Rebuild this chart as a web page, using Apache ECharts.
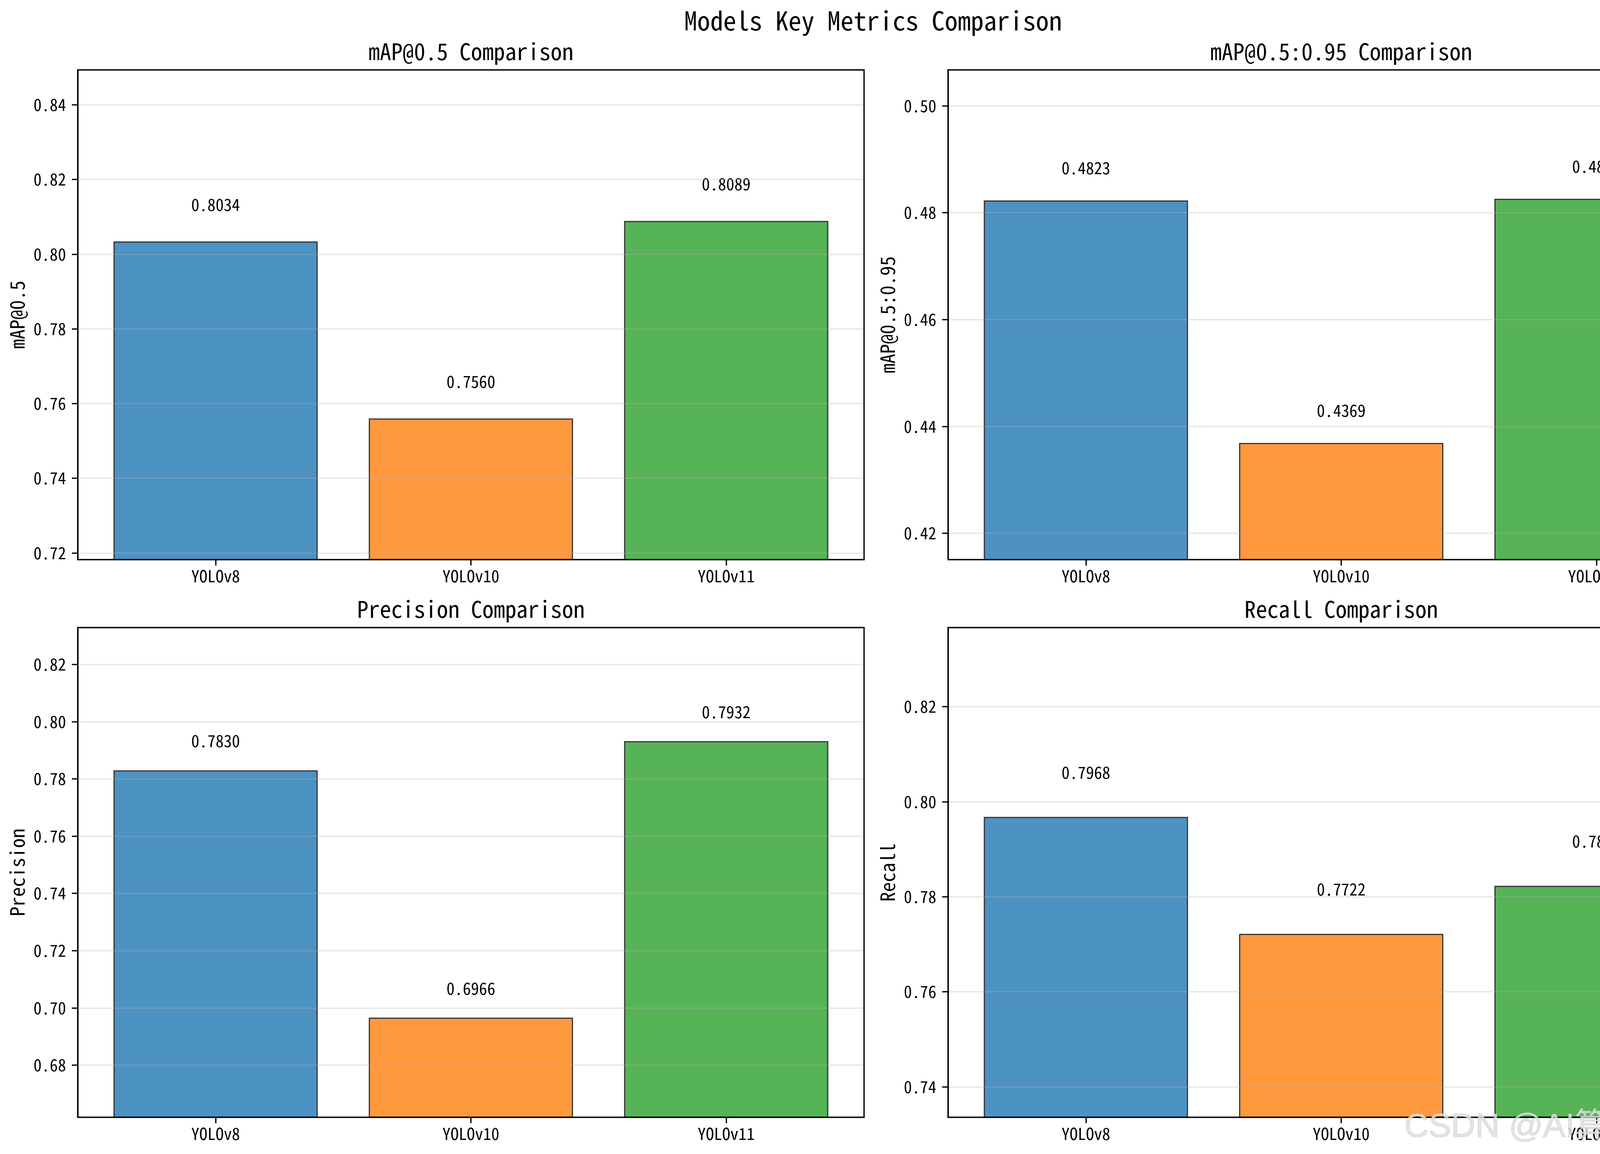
<!DOCTYPE html>
<html>
<head>
<meta charset="utf-8">
<script src="https://cdn.jsdelivr.net/npm/echarts@6/dist/echarts.min.js"></script>
<style>
html,body{margin:0;padding:0;background:#fff;}
#chart{width:4470px;height:2955px;}
</style>
</head>
<body>
<div id="chart"></div>
<script>
// ---- data ----
const categories = ['YOLOv8', 'YOLOv10', 'YOLOv11'];
const map50Values = [0.8034, 0.7560, 0.8089];
const map5095Values = [0.4823, 0.4369, 0.4826];
const precisionValues = [0.7830, 0.6966, 0.7932];
const recallValues = [0.7968, 0.7722, 0.7823];

const map50Ticks = [0.72, 0.74, 0.76, 0.78, 0.80, 0.82, 0.84];
const map5095Ticks = [0.42, 0.44, 0.46, 0.48, 0.50];
const precisionTicks = [0.68, 0.70, 0.72, 0.74, 0.76, 0.78, 0.80, 0.82];
const recallTicks = [0.74, 0.76, 0.78, 0.80, 0.82];

const mainTitle = 'Models Key Metrics Comparison';
const panelTitles = ['mAP@0.5 Comparison', 'mAP@0.5:0.95 Comparison', 'Precision Comparison', 'Recall Comparison'];
const yNames = ['mAP@0.5', 'mAP@0.5:0.95', 'Precision', 'Recall'];
const watermark = 'CSDN @AI算法小哆啦';

// ---- styles / layout ----
const barColors = ['#4c92c3', '#ff993e', '#56b356'];
const FONT = '"Noto Sans Mono CJK SC", "DejaVu Sans Mono", monospace';
const rects = [
  {x: 199, y: 179, w: 2013, h: 1254},
  {x: 2427, y: 179, w: 2013, h: 1254},
  {x: 199, y: 1607, w: 2013, h: 1254},
  {x: 2427, y: 1607, w: 2013, h: 1254}
];
const panels = [
  {values: map50Values, ticks: map50Ticks},
  {values: map5095Values, ticks: map5095Ticks},
  {values: precisionValues, ticks: precisionTicks},
  {values: recallValues, ticks: recallTicks}
];

const grid = [], xAxis = [], yAxis = [], series = [];
const title = [{
  text: mainTitle, left: 2235, top: 19, textAlign: 'center', padding: 0,
  textStyle: {fontSize: 66.7, fontWeight: 'normal', fontFamily: FONT, color: '#000'}
}];

panels.forEach((p, i) => {
  const r = rects[i];
  const vmin = Math.min(...p.values) * 0.95;
  const vmax = Math.max(...p.values) * 1.05;
  const pad = r.w * 0.04 / 3.08;
  const labelDist = 0.01 * Math.max(...p.values) / (vmax - vmin) * r.h - 4;
  const f = 2 * i, b = 2 * i + 1;

  title.push({
    text: panelTitles[i], left: r.x + r.w / 2, top: r.y - 76, textAlign: 'center', padding: 0,
    textStyle: {fontSize: 58.3, fontWeight: 'normal', fontFamily: FONT, color: '#000'}
  });

  grid.push({left: r.x, top: r.y, width: r.w, height: r.h, show: true, borderColor: '#000', borderWidth: 3.3, backgroundColor: 'transparent', z: 6});
  grid.push({left: r.x + pad, top: r.y, width: r.w - 2 * pad, height: r.h});

  xAxis.push({gridIndex: f, type: 'value', min: 0, max: 1, show: false});
  xAxis.push({
    gridIndex: b, type: 'category', data: categories,
    axisLine: {show: false},
    axisTick: {show: true, alignWithLabel: true, length: 15, lineStyle: {color: '#000', width: 3.3}},
    axisLabel: {fontSize: 41.7, fontFamily: FONT, color: '#000', margin: 21}
  });

  yAxis.push({
    gridIndex: f, type: 'value', min: vmin, max: vmax, z: 4,
    name: yNames[i], nameLocation: 'middle', nameRotate: 90, nameGap: 130,
    nameTextStyle: {fontSize: 50, fontFamily: FONT, color: '#000'},
    axisLine: {show: true, lineStyle: {color: '#000', width: 3.3}},
    axisTick: {show: true, length: 15, lineStyle: {color: '#000', width: 3.3}, customValues: p.ticks},
    axisLabel: {fontSize: 41.7, fontFamily: FONT, color: '#000', margin: 30, customValues: p.ticks,
      formatter: v => v.toFixed(2)},
    splitLine: {show: true, lineStyle: {color: 'rgba(176,176,176,0.3)', width: 3.3}}
  });
  yAxis.push({gridIndex: b, type: 'value', min: vmin, max: vmax, show: false});

  series.push({
    type: 'bar', xAxisIndex: b, yAxisIndex: b, barWidth: '80%', z: 2,
    data: p.values.map((v, k) => ({value: v, itemStyle: {color: barColors[k]}})),
    itemStyle: {borderColor: '#333', borderWidth: 3},
    label: {show: true, position: 'top', distance: labelDist, fontSize: 41.7, fontFamily: FONT, color: '#000',
      formatter: pr => pr.value.toFixed(4)}
  });
});

const chart = echarts.init(document.getElementById('chart'), null, {renderer: 'canvas'});
chart.setOption({
  animation: false,
  backgroundColor: '#fff',
  title, grid, xAxis, yAxis, series,
  graphic: [{
    type: 'text', right: 8, bottom: 24, z: 100,
    style: {
      text: watermark, fontSize: 86, fontFamily: '"Liberation Sans", "Noto Sans CJK SC", sans-serif',
      fill: 'rgba(222,222,222,0.85)', stroke: 'rgba(150,150,150,0.45)', lineWidth: 1.5
    }
  }]
});
</script>
</body>
</html>
